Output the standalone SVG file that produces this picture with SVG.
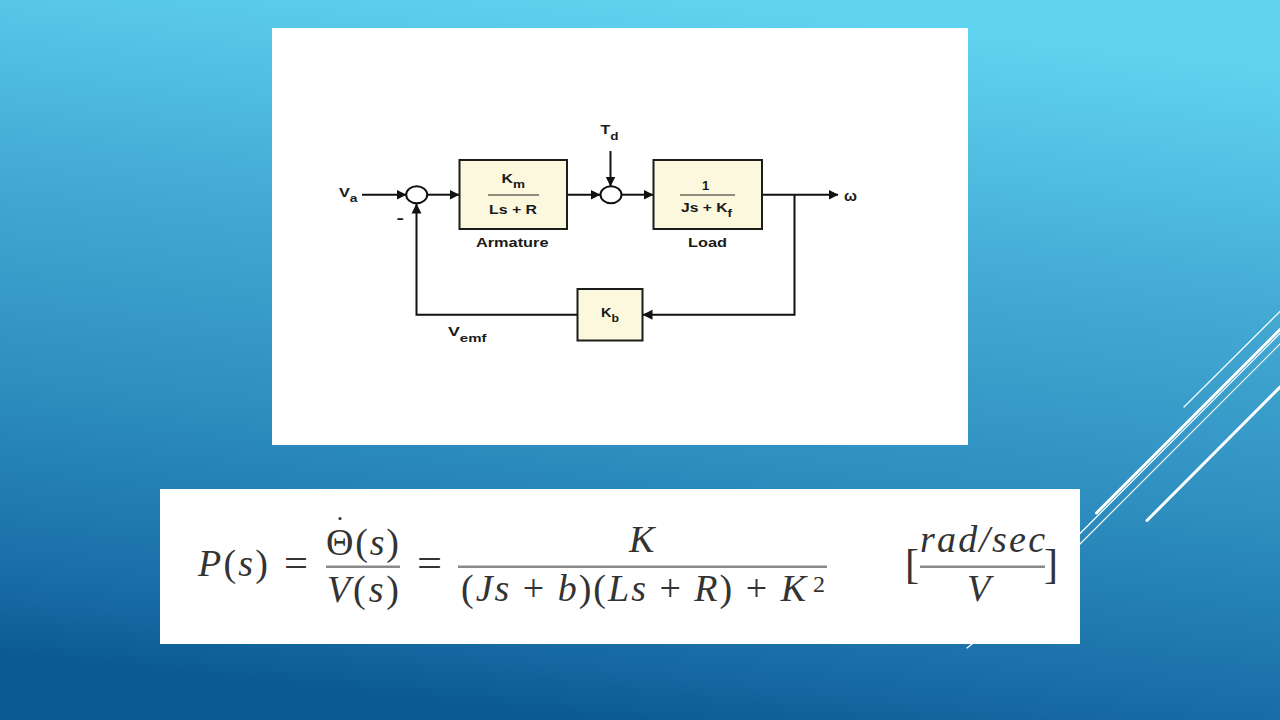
<svg xmlns="http://www.w3.org/2000/svg" width="1280" height="720" viewBox="0 0 1280 720">
<defs>
<linearGradient id="bg" gradientUnits="userSpaceOnUse" x1="680" y1="0" x2="600" y2="720">
<stop offset="0" stop-color="#60d3f0"/><stop offset="0.32" stop-color="#45acd5"/><stop offset="0.62" stop-color="#2e8fc0"/><stop offset="0.9" stop-color="#186ca6"/><stop offset="1" stop-color="#0b5a93"/>
</linearGradient>
<marker id="arr" viewBox="0 0 10 10" refX="9.500" refY="5" markerWidth="10" markerHeight="10.500" markerUnits="userSpaceOnUse" orient="auto"><path d="M0 0L10 5L0 10Z" fill="#111"/></marker>
</defs>
<style>
.block{fill:#fbf8de;stroke:#1c1c1c;stroke-width:2}
.sum{fill:#fff;stroke:#111;stroke-width:2}
.wa{fill:none;stroke:#111;stroke-width:2;marker-end:url(#arr)}
.rule{stroke:#222;stroke-width:1}
text{font-family:"Liberation Sans",Arial,sans-serif;font-weight:700;fill:#1a1a1a;font-size:13px}
.sub{font-size:11px}
.m text{font-family:"Liberation Serif","Times New Roman",serif;font-weight:400;fill:#333;font-size:38px}
.i{font-style:italic}
.frac{stroke:#8a8a8a;stroke-width:2.600}
.deco{stroke:#fff;stroke-linecap:round;fill:none}
</style>
<rect id="background" width="1280" height="720" fill="url(#bg)"/>
<g id="decoration">
<line class="deco" x1="1184" y1="407" x2="1280" y2="311.500" stroke-width="1.200"/>
<line class="deco" x1="1096.500" y1="513" x2="1280" y2="329.500" stroke-width="3"/>
<line class="deco" x1="1080" y1="533.500" x2="1280" y2="333.500" stroke-width="1.200"/>
<line class="deco" x1="1080" y1="544" x2="1280" y2="344" stroke-width="1.200"/>
<line class="deco" x1="1147" y1="520.500" x2="1280" y2="387" stroke-width="3"/>
<line class="deco" x1="967" y1="648" x2="972" y2="644" stroke-width="1.200"/>
</g>
<rect id="diagram-panel" x="272" y="28" width="696" height="417" fill="#fff"/>
<rect id="formula-panel" x="160" y="489" width="920" height="155" fill="#fff"/>
<g id="connectors">
<line class="wa" x1="362" y1="194.700" x2="406" y2="194.700"/>
<line class="wa" x1="428" y1="194.700" x2="459" y2="194.700"/>
<line class="wa" x1="567" y1="194.700" x2="600" y2="194.700"/>
<line class="wa" x1="622" y1="194.700" x2="653" y2="194.700"/>
<line class="wa" x1="610.500" y1="151" x2="610.500" y2="186"/>
<line class="wa" x1="762" y1="194.700" x2="838" y2="194.700"/>
<path class="wa" d="M794.500 194.700V314.700H643"/>
<path class="wa" d="M577 314.700H416.500V204"/>
</g>
<g id="sum1"><ellipse class="sum" cx="416.700" cy="194.700" rx="10.500" ry="8.500"/></g>
<g id="sum2"><ellipse class="sum" cx="611" cy="194.700" rx="10.500" ry="8.500"/></g>
<g id="armature">
<rect class="block" x="459.500" y="160" width="107.500" height="69"/>
<line class="rule" x1="488" y1="195" x2="539" y2="195"/>
<text x="501.500" y="183" textLength="23.500" lengthAdjust="spacingAndGlyphs">K<tspan class="sub" dy="5">m</tspan></text>
<text x="489" y="214" textLength="48" lengthAdjust="spacingAndGlyphs">Ls + R</text>
<text x="476" y="247" textLength="72.500" lengthAdjust="spacingAndGlyphs">Armature</text>
</g>
<g id="load">
<rect class="block" x="653.500" y="160" width="108.500" height="69"/>
<line class="rule" x1="680" y1="195" x2="735" y2="195"/>
<text x="702" y="190">1</text>
<text x="681" y="212" textLength="51" lengthAdjust="spacingAndGlyphs">Js + K<tspan class="sub" dy="5">f</tspan></text>
<text x="688" y="247" textLength="39" lengthAdjust="spacingAndGlyphs">Load</text>
</g>
<g id="feedback">
<rect class="block" x="577.500" y="289" width="65" height="51.500"/>
<text x="601" y="317" textLength="18" lengthAdjust="spacingAndGlyphs">K<tspan class="sub" dy="5">b</tspan></text>
</g>
<g id="labels">
<text x="339" y="197" textLength="18.500" lengthAdjust="spacingAndGlyphs">V<tspan class="sub" dy="5">a</tspan></text>
<text x="396.500" y="223" textLength="7.500" lengthAdjust="spacingAndGlyphs" style="font-size:15px">-</text>
<text x="600.500" y="134" textLength="18" lengthAdjust="spacingAndGlyphs">T<tspan class="sub" dy="6">d</tspan></text>
<text x="844" y="201" textLength="13" lengthAdjust="spacingAndGlyphs" style="font-size:14px">ω</text>
<text x="448" y="336" textLength="38.500" lengthAdjust="spacingAndGlyphs">V<tspan class="sub" dy="6">emf</tspan></text>
</g>
<g id="formula" class="m">
<text x="198" y="576" textLength="70"><tspan class="i">P</tspan>(<tspan class="i">s</tspan>)</text>
<text x="284" y="576" textLength="24" lengthAdjust="spacingAndGlyphs">=</text>
<circle cx="340" cy="518.500" r="1.600" fill="#333"/>
<text x="326" y="555" textLength="73">Θ(<tspan class="i">s</tspan>)</text>
<line class="frac" x1="326" y1="566.700" x2="400" y2="566.700"/>
<text x="327" y="602" textLength="72"><tspan class="i">V</tspan>(<tspan class="i">s</tspan>)</text>
<text x="417" y="576" textLength="25" lengthAdjust="spacingAndGlyphs">=</text>
<text class="i" x="629" y="552">K</text>
<line class="frac" x1="458" y1="566.700" x2="827" y2="566.700"/>
<text x="461" y="601" textLength="345">(<tspan class="i">Js</tspan> + <tspan class="i">b</tspan>)(<tspan class="i">Ls</tspan> + <tspan class="i">R</tspan>) + <tspan class="i">K</tspan></text>
<text x="813" y="592" style="font-size:24px">2</text>
<text x="905" y="578" style="font-size:42px">[</text>
<text class="i" x="920" y="552" textLength="125">rad/sec</text>
<line class="frac" x1="920" y1="566.700" x2="1045" y2="566.700"/>
<text class="i" x="967" y="601">V</text>
<text x="1044" y="578" style="font-size:42px">]</text>
</g>
</svg>
